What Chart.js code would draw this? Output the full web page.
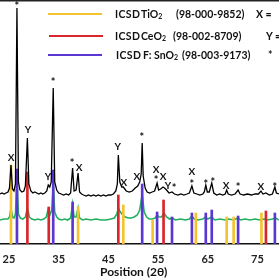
<!DOCTYPE html>
<html><head><meta charset="utf-8">
<script src="https://cdn.jsdelivr.net/npm/chart.js@4"></script>
<style>
html,body{margin:0;padding:0;background:#fff;overflow:hidden}
#wrap{position:relative;width:279px;height:279px;overflow:hidden}
canvas{position:absolute;left:0;top:0}
.lg{position:absolute;font:bold 10.5px Lato, sans-serif;color:#111;line-height:12px;white-space:nowrap}
.lg sub{font-size:7px;vertical-align:-1px;line-height:0}
.ic{letter-spacing:0.4px}
.ln{position:absolute;height:2px}
</style></head>
<body><div id="wrap"><canvas id="c" width="279" height="279"></canvas>
<div class="ln" style="left:48px;top:13px;width:54px;background:#f4c430"></div>
<div class="ln" style="left:49px;top:35px;width:54px;background:#d8262a"></div>
<div class="ln" style="left:48px;top:54px;width:54px;background:#5a36d2"></div>
<div class="lg ic" style="left:115px;top:8px">ICSD</div>
<div class="lg" style="left:141px;top:8px">TiO<sub>2</sub></div>
<div class="lg" style="left:176px;top:8px">(98-000-9852)</div>
<div class="lg" style="left:256px;top:8px">X =</div>
<div class="lg ic" style="left:115px;top:30px">ICSD</div>
<div class="lg" style="left:141px;top:30px">CeO<sub>2</sub></div>
<div class="lg" style="left:173px;top:30px">(98-002-8709)</div>
<div class="lg" style="left:266px;top:30px">Y =</div>
<div class="lg ic" style="left:116px;top:49px">ICSD</div>
<div class="lg" style="left:143px;top:49px">F: SnO<sub>2</sub></div>
<div class="lg" style="left:182px;top:49px">(98-003-9173)</div>
<div class="lg" style="left:268px;top:49px">*</div>
</div>
<script>
// x-axis tick labels (2θ)
const xTicks = [25, 35, 45, 55, 65, 75];

// measured pattern (top, black)
const patternAPos = [23.2,23.6,24.0,24.4,24.8,25.1,25.4,25.7,26.0,26.3,26.6,26.9,27.2,27.6,28.0,28.3,28.7,29.0,29.4,29.8,30.2,30.6,31.0,31.4,31.8,32.2,32.6,32.9,33.2,33.5,33.9,34.2,34.6,35.0,35.5,36.0,36.5,37.0,37.4,37.8,38.1,38.5,38.9,39.2,39.6,40.0,40.5,41.0,41.5,42.0,42.5,43.0,43.5,44.0,44.5,45.0,45.5,46.0,46.5,46.8,47.0,47.3,47.7,48.0,48.6,49.2,49.8,50.4,50.9,51.3,51.6,51.8,52.0,52.4,52.8,53.3,53.8,54.3,54.8,55.1,55.5,56.0,56.3,56.7,57.2,57.8,58.3,59.0,59.6,60.2,60.8,61.3,61.8,62.2,62.8,63.4,64.0,64.3,64.6,64.9,65.3,65.8,66.2,66.8,67.4,68.0,68.5,68.8,69.1,69.8,70.5,71.1,71.5,72.2,73.0,73.8,74.5,75.2,75.7,76.1,76.7,77.4,78.0,78.5,78.8,79.3];
const patternAInt = [50,51,50,51,52,56,79,55,53,60,236,62,54,52,53,58,106,60,53,51,52,51,50,51,50,51,53,59,57,62,156,62,54,51,50,49,50,49,51,76,53,54,71,52,50,49,48,49,48,49,48,49,48,49,48,49,49,50,53,60,89,62,57,57,53,52,53,56,58,62,70,101,68,56,52,51,52,53,61,54,55,57,56,54,51,52,50,49,50,49,50,51,58,51,50,49,50,52,59,52,52,61,51,49,50,49,50,54,50,49,50,54,50,49,50,49,50,50,53,50,51,49,50,57,51,50];

// measured pattern (bottom, green)
const patternBPos = [23.2,24.0,24.8,25.1,25.4,25.7,26.0,26.3,26.6,26.9,27.3,27.8,28.3,28.7,29.1,29.6,30.2,30.8,31.4,32.0,32.5,32.9,33.3,33.6,33.9,34.2,34.6,35.0,35.6,36.2,36.8,37.4,37.8,38.1,38.5,38.9,39.2,39.8,40.5,41.5,42.5,43.5,44.5,45.5,46.2,46.7,47.0,47.4,47.9,48.4,49.0,49.6,50.2,50.8,51.3,51.8,52.2,52.7,53.2,53.8,54.4,54.8,55.2,55.7,56.2,56.7,57.3,57.8,58.5,59.5,60.5,61.3,61.8,62.3,63.0,64.0,64.6,65.0,65.8,66.4,67.5,68.5,69.2,70.2,71.1,71.6,72.5,73.5,74.5,75.5,76.3,77.0,78.0,78.7,79.3];
const patternBInt = [24,25,25,27,36,27,26,30,66,30,26,25,27,36,27,25,24,25,24,25,27,35,30,34,60,32,27,25,24,25,24,26,40,27,27,36,26,24,25,24,25,24,24,25,26,30,36,32,29,27,26,26,27,29,34,50,32,27,25,25,26,29,27,27,31,27,25,26,24,25,24,25,28,25,24,25,27,25,27,24,25,24,25,24,26,24,25,24,25,24,25,24,25,26,24];

// reference sticks
const tiO2Pos = [25.4, 38.9, 48.0, 53.9, 62.6, 68.8, 70.2, 75.8];
const tiO2Int = [79, 37, 39, 24, 31, 27, 27, 31];
const ceO2Pos = [28.7, 33.0, 47.0, 56.1, 76.7];
const ceO2Int = [72, 37, 49, 44, 33];
const snO2Pos = [26.6, 33.9, 37.8, 51.8, 54.8, 57.8, 61.8, 64.6, 65.8, 71.1, 78.5];
const snO2Int = [75, 74, 42, 60, 32, 27, 31, 31, 34, 28, 31];

// peak markers
const markPos = [26.6,25.4,28.8,32.85,33.85,37.7,39.1,46.9,48.1,50.75,51.75,54.6,54.6,56.0,57.0,58.2,61.8,61.8,64.6,66.0,68.7,71.1,75.7,78.5];
const markInt = [240,86,114,67,164,83,76,97,61,67,109,74,66,67,58,58,72,62,62,64,58,59,57,59];
const markText = ['*','X','Y','Y','*','*','X','Y','X','X','*','X','*','X','Y','*','X','*','*','*','X','*','X','*'];

const pts = (xs, ys) => xs.map((x, i) => ({x: x, y: ys[i]}));

const markPlugin = {
  id: 'marks',
  afterDatasetsDraw(chart) {
    const ctx = chart.ctx, xs = chart.scales.x, ys = chart.scales.y;
    ctx.save();
    ctx.fillStyle = '#111';
    ctx.textAlign = 'center';
    ctx.textBaseline = 'middle';
    markText.forEach((t, i) => {
      const px = xs.getPixelForValue(markPos[i]);
      const py = ys.getPixelForValue(markInt[i]);
      ctx.font = t === '*' ? 'bold 11px Lato, sans-serif' : 'bold 10px Lato, sans-serif';
      ctx.fillText(t, px, t === '*' ? py + 2 : py);
    });
    ctx.restore();
  },
  afterDraw(chart) {
    const ctx = chart.ctx;
    ctx.save();
    ctx.fillStyle = '#222';
    ctx.fillRect(0, 0, chart.width, 1.5);
    ctx.restore();
  }
};

new Chart(document.getElementById('c'), {
  type: 'line',
  data: {
    datasets: [
      {type: 'line', data: pts(patternAPos, patternAInt), borderColor: '#000', borderWidth: 1.3, pointRadius: 0, tension: 0, order: 0},
      {type: 'bar', data: pts(tiO2Pos, tiO2Int), backgroundColor: '#f4c430', barThickness: 2, grouped: false, order: 1},
      {type: 'bar', data: pts(ceO2Pos, ceO2Int), backgroundColor: '#d8262a', barThickness: 2, grouped: false, order: 1},
      {type: 'bar', data: pts(snO2Pos, snO2Int), backgroundColor: '#5a36d2', barThickness: 2, grouped: false, order: 1},
      {type: 'line', data: pts(patternBPos, patternBInt), borderColor: '#22b05c', borderWidth: 1.6, pointRadius: 0, tension: 0, order: 2}
    ]
  },
  options: {
    responsive: false,
    animation: false,
    layout: {padding: 0},
    plugins: {legend: {display: false}, tooltip: {enabled: false}},
    scales: {
      x: {
        type: 'linear', min: 23.19, max: 79.33, offset: false,
        afterBuildTicks: s => { s.ticks = xTicks.map(v => ({value: v})); },
        afterFit: s => { s.height = 35; s.paddingLeft = 0; s.paddingRight = 0; },
        grid: {display: false, drawTicks: false},
        border: {display: true, color: '#111', width: 1.6},
        ticks: {color: '#222', font: {family: 'Lato', weight: 'bold', size: 11}, padding: 9, maxRotation: 0, autoSkip: false},
        title: {display: true, text: 'Position (2θ)    ', color: '#111', font: {family: 'Lato', weight: 'bold', size: 12}, padding: {top: 0, bottom: 0}}
      },
      y: {min: 0, max: 244, display: false}
    }
  },
  plugins: [markPlugin]
});
</script>
</body></html>
